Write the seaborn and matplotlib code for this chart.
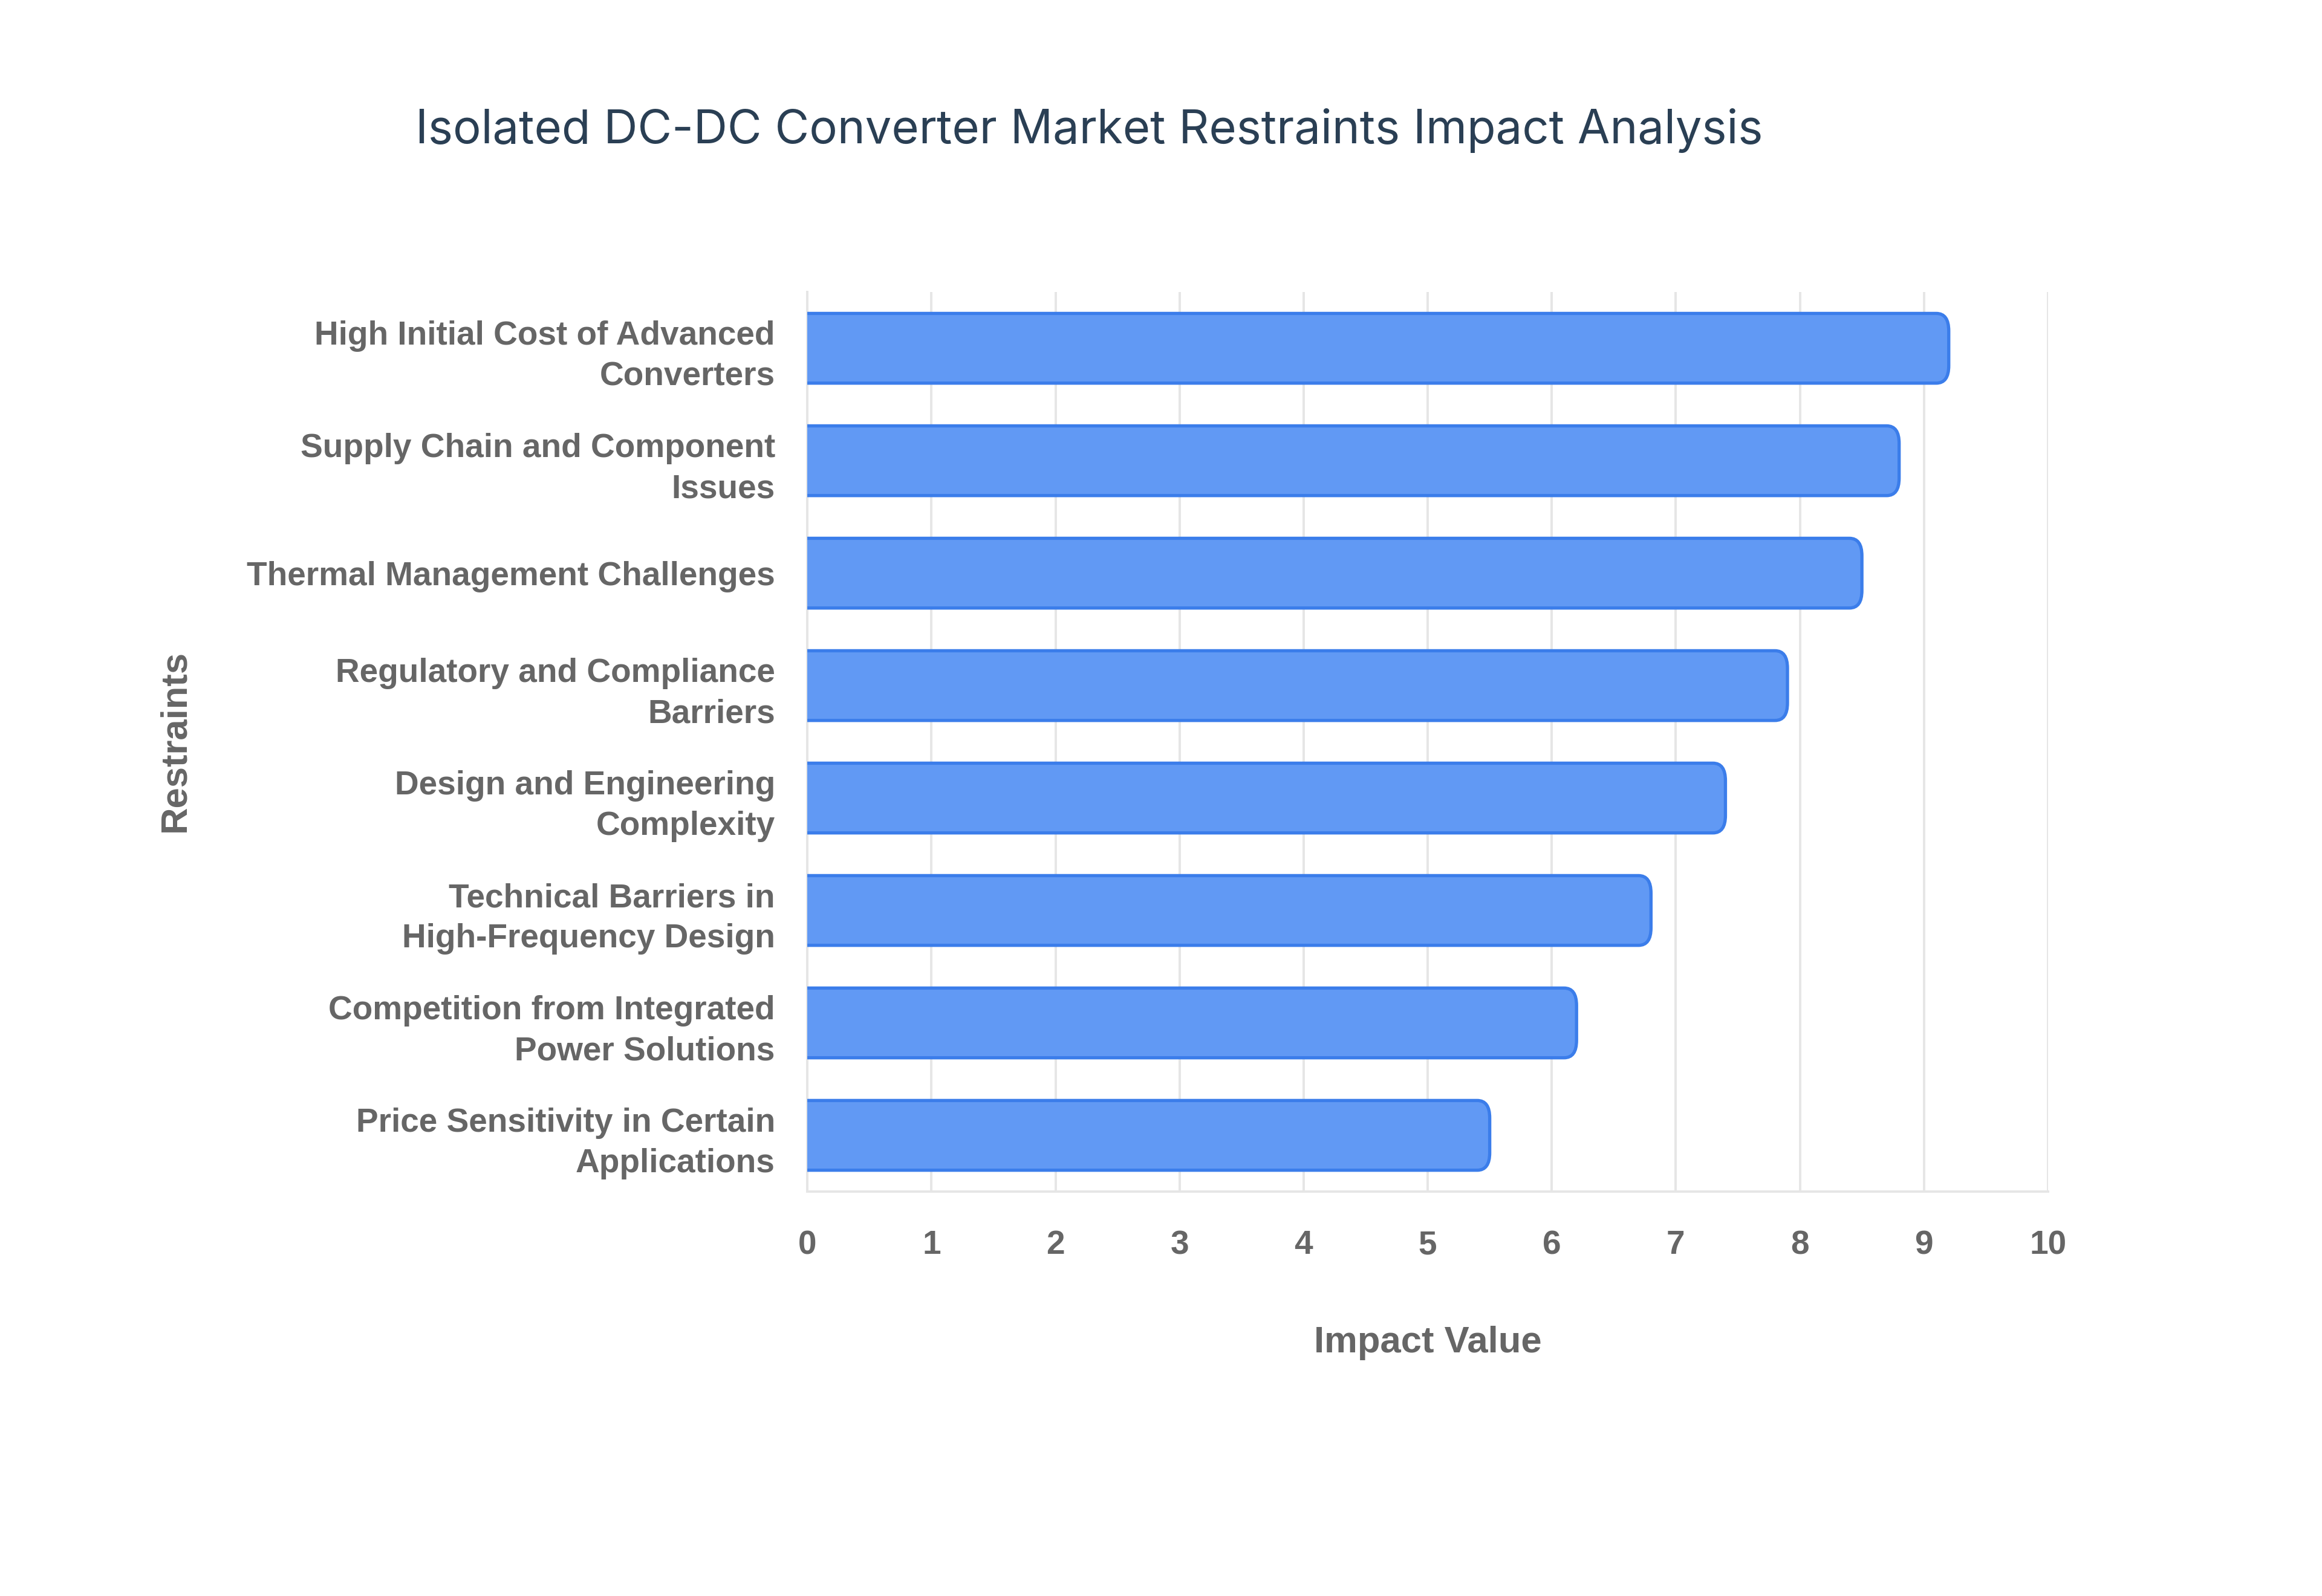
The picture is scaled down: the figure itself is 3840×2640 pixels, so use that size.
import matplotlib
matplotlib.use("Agg")
import pandas as pd
import matplotlib.pyplot as plt
import seaborn as sns
from matplotlib.patches import FancyBboxPatch

# Data
restraints = [
    "High Initial Cost of Advanced\nConverters",
    "Supply Chain and Component\nIssues",
    "Thermal Management Challenges",
    "Regulatory and Compliance\nBarriers",
    "Design and Engineering\nComplexity",
    "Technical Barriers in\nHigh-Frequency Design",
    "Competition from Integrated\nPower Solutions",
    "Price Sensitivity in Certain\nApplications",
]
impact = [9.2, 8.8, 8.5, 7.9, 7.4, 6.8, 6.2, 5.5]
x_ticks = list(range(0, 11))

df = pd.DataFrame({"Restraints": restraints, "Impact Value": impact})

sns.set_theme(style="white")
plt.rcParams["font.family"] = ["Liberation Sans", "DejaVu Sans"]

fig = plt.figure(figsize=(16, 11), dpi=240)
ax = fig.add_axes([0.3477, 0.2534, 0.882 - 0.3477, 0.817 - 0.2534])

sns.barplot(data=df, y="Restraints", x="Impact Value", orient="h",
            color="#5b94f4", width=0.62, ax=ax)

# swap the plain rectangles for rounded ones (right end rounded, left clipped)
bars = list(ax.patches)
for p in bars:
    x0, y0 = p.get_x(), p.get_y()
    w, h = p.get_width(), p.get_height()
    p.remove()
    rb = FancyBboxPatch((x0 - 0.5, y0), w + 0.5, h,
                        boxstyle="round,pad=0,rounding_size=0.1",
                        mutation_aspect=1.55,
                        facecolor="#6199f4", edgecolor="#3b7dea",
                        linewidth=1.6, zorder=3, clip_on=True)
    ax.add_patch(rb)
    rb.set_clip_path(ax.patch)

ax.set_xlim(0, 10)
ax.set_ylim(7.5, -0.5)
ax.set_xticks(x_ticks)
ax.xaxis.grid(True, color="#e6e6e6", linewidth=1.2, zorder=0)
ax.set_axisbelow(True)
for side in ["top", "right"]:
    ax.spines[side].set_visible(False)
ax.spines["left"].set_color("#e6e6e6")
ax.spines["bottom"].set_color("#e6e6e6")
ax.spines["left"].set_linewidth(1.2)
ax.spines["bottom"].set_linewidth(1.2)
ax.tick_params(axis="both", length=0)
ax.tick_params(axis="y", pad=16)
ax.tick_params(axis="x", pad=19)

for lab in ax.get_yticklabels():
    lab.set_fontsize(16.5)
    lab.set_fontweight("bold")
    lab.set_color("#666666")
    lab.set_multialignment("right")
    lab.set_linespacing(1.38)
for lab in ax.get_xticklabels():
    lab.set_fontsize(16.5)
    lab.set_fontweight("bold")
    lab.set_color("#666666")

ax.set_xlabel("Impact Value", fontsize=18.5, fontweight="bold", color="#666666", labelpad=32)
ax.set_ylabel("")
fig.text(0.0755, 0.536, "Restraints", rotation=90, ha="center", va="center",
         fontsize=18.5, fontweight="bold", color="#666666")

fig.text(0.469, 0.918, "Isolated DC-DC Converter Market Restraints Impact Analysis",
         ha="center", va="center", fontsize=23.3, color="#2a3f54",
         family=["Inter", "DejaVu Sans"])

fig.savefig("out.png", dpi=240, facecolor="white")
